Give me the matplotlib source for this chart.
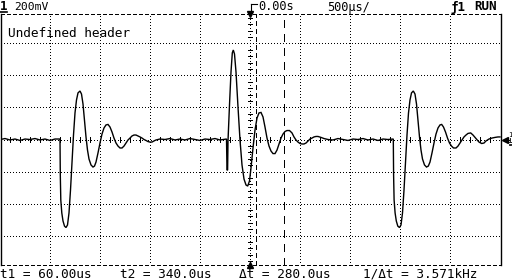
import matplotlib
matplotlib.use("Agg")
import matplotlib.pyplot as plt
from matplotlib.lines import Line2D

plt.rcParams['lines.scale_dashes'] = False

# ---- data (time in microseconds, voltage in millivolts) ----
t_base1 = [-2495, -2450, -2400, -2350, -2300, -2250, -2200, -2150, -2100, -2050, -2000, -1950]
v_base1 = [0, 6, -3, 3, -6, 3, 0, 6, -3, 3, -6, 3]

t_pulse1 = [-1900, -1897, -1892, -1882, -1870, -1855, -1840, -1825, -1810, -1795, -1780, -1765,
            -1750, -1735, -1720, -1700, -1685, -1670, -1655, -1640, -1625, -1610, -1590, -1570,
            -1555, -1540, -1520, -1500, -1480, -1460, -1440, -1420, -1400, -1380, -1360, -1340,
            -1320, -1300, -1280, -1260, -1240, -1220, -1200, -1180, -1160, -1140, -1120, -1100,
            -1080, -1060, -1040, -1020, -1000, -980, -960, -940, -900]
v_pulse1 = [3, -222, -378, -459, -509, -541, -550, -534, -459, -316, -141, 28,
            166, 247, 291, 303, 284, 222, 122, 16, -66, -122, -159, -172,
            -166, -141, -84, -22, 34, 72, 91, 94, 78, 47, 9, -22,
            -41, -53, -53, -41, -22, -3, 9, 22, 28, 28, 22, 16,
            9, 0, -6, -13, -16, -16, -9, -3, 3]

t_base2 = [-850, -800, -750, -700, -650, -600, -550, -500, -450, -400, -350, -300, -265]
v_base2 = [0, 6, -3, 3, -3, 6, 0, -6, 3, 0, 6, -3, 0]

t_pulse2 = [-235, -230, -224, -220, -205, -190, -177, -167, -155, -140, -120, -100,
            -80, -60, -40, -23, -5, 10, 30, 50, 70, 90, 110, 130,
            150, 170, 190, 210, 230, 250, 270, 290, 310, 330, 350, 370,
            395, 420, 440, 460, 480, 500, 520, 540, 560, 580, 600, 620,
            640, 660, 680, 710, 740, 780]
v_pulse2 = [3, -191, -191, -9, 216, 422, 541, 559, 534, 422, 203, -3,
            -159, -247, -284, -291, -259, -178, -53, 59, 134, 166, 169, 141,
            78, 9, -41, -72, -88, -88, -66, -28, 9, 34, 50, 56,
            56, 41, 16, -3, -16, -25, -28, -28, -22, -9, 3, 9,
            16, 19, 19, 13, 6, 0]

t_base3 = [830, 880, 930, 980, 1030, 1080, 1130, 1180, 1230, 1280, 1330, 1380]
v_base3 = [-3, 6, 0, -6, 3, 0, 6, -3, 3, -6, 3, 0]

t_pulse3 = [1433, 1436, 1441, 1451, 1463, 1478, 1495, 1510, 1525, 1540, 1555, 1570,
            1585, 1600, 1615, 1633, 1650, 1665, 1680, 1695, 1710, 1725, 1745, 1765,
            1783, 1800, 1820, 1840, 1860, 1880, 1900, 1917, 1935, 1955, 1975, 1995,
            2015, 2035, 2060, 2080, 2100, 2120, 2140, 2160, 2180, 2207, 2230, 2250,
            2270, 2290, 2317, 2340, 2360, 2390, 2420, 2450, 2480, 2500]
v_pulse3 = [3, -222, -378, -459, -509, -541, -550, -534, -459, -316, -141, 28,
            166, 247, 291, 303, 284, 222, 122, 16, -66, -122, -159, -172,
            -166, -141, -84, -22, 34, 72, 91, 94, 78, 47, 9, -22,
            -41, -53, -53, -41, -22, -3, 16, 28, 38, 41, 28, 13,
            -3, -16, -25, -22, -9, 3, 9, 13, 16, 16]

cursor_t1 = 60
cursor_t2 = 340
grid_t = [-2000, -1500, -1000, -500, 500, 1000, 1500, 2000]
grid_v = [-600, -400, -200, 200, 400, 600]

header_text = "Undefined header"
top_channel = "1"
top_scale = "200mV"
top_delay = "0.00s"
top_time = "500µs/"
top_trig = "ƒ1"
top_run = "RUN"
bottom_labels = ["t1 = 60.00us", "t2 = 340.0us", "Δt = 280.0us", "1/Δt = 3.571kHz"]
bottom_x = [0, 120, 239, 363]

# ---- figure ----
W, H = 512, 280
fig = plt.figure(figsize=(W / 100, H / 100), dpi=100)
fig.patch.set_facecolor('white')

def fx(x):
    return x / W

def fy(y):
    return 1 - y / H

XMIN, XMAX = -2495, 2505
YMIN, YMAX = -784, 784
ax = fig.add_axes([fx(0.5), fy(265), 500 / W, (265 - 14) / H])
ax.set_xlim(XMIN, XMAX)
ax.set_ylim(YMIN, YMAX)
ax.set_xticks([])
ax.set_yticks([])
ax.set_facecolor('white')

px = 0.72  # one pixel in points
LW1 = 0.7   # about one pixel, drawn without antialiasing
for s in ['left', 'right']:
    ax.spines[s].set_linewidth(1.0)
    ax.spines[s].set_color('black')
for s in ['top', 'bottom']:
    ax.spines[s].set_visible(False)

border_dash = (0, (4 * px, 2.5 * px))
for yb in (YMIN, YMAX):
    ax.plot([XMIN, XMAX], [yb, yb], color='black', lw=LW1, ls=border_dash,
            antialiased=False, clip_on=False)

dot = (0, (1 * px, 2.3 * px))
for g in grid_t:
    ax.axvline(g, color='black', lw=LW1, ls=dot, antialiased=False)
for g in grid_v:
    ax.axhline(g, color='black', lw=LW1, ls=dot, antialiased=False)
ax.axvline(0, color='black', lw=LW1, ls=dot, antialiased=False)
ax.axhline(0, color='black', lw=LW1, ls=dot, antialiased=False)

# center axis ticks
tick_t = [k * 100 for k in range(-24, 25) if k % 5 != 0]
ax.vlines(tick_t, -15, 15, color='black', lw=LW1, antialiased=False)
tick_v = [k * 40 for k in range(-19, 20) if k % 5 != 0]
ax.hlines(tick_v, -22, 22, color='black', lw=LW1, antialiased=False)

# cursors
ax.axvline(cursor_t1, color='black', lw=LW1, ls=(0, (5 * px, 3 * px)), antialiased=False)
ax.axvline(cursor_t2, color='black', lw=LW1, ls=(0, (8 * px, 6 * px)), antialiased=False)

# trace
t_all = t_base1 + t_pulse1 + t_base2 + t_pulse2 + t_base3 + t_pulse3
v_all = v_base1 + v_pulse1 + v_base2 + v_pulse2 + v_base3 + v_pulse3
ax.plot(t_all, v_all, color='black', lw=1.0, solid_joinstyle='miter')

# markers on the graticule
ax.plot([0], [YMAX], marker='v', color='black', ms=5, clip_on=False)
ax.plot([0], [YMIN], marker='^', color='black', ms=5, clip_on=False)

ax.text(0.015, (265 - 37) / 251, header_text, transform=ax.transAxes, family='DejaVu Sans Mono',
        fontsize=9.2, va='baseline', ha='left')

mono = 'DejaVu Sans Mono'
fig.text(fx(0), fy(10.5), top_channel, family=mono, fontsize=9, fontweight='bold', va='baseline')
fig.add_artist(Line2D([fx(0), fx(7)], [fy(12), fy(12)], color='black', lw=1.2))
fig.text(fx(14), fy(10.5), top_scale, family=mono, fontsize=8.2, va='baseline')
fig.text(fx(258), fy(10.5), top_delay, family=mono, fontsize=8.6, va='baseline')
fig.text(fx(327), fy(10.5), top_time, family=mono, fontsize=8.6, va='baseline')
fig.text(fx(450), fy(10.5), top_trig, family=mono, fontsize=9, fontweight='bold', va='baseline')
fig.text(fx(474), fy(10.5), top_run, family=mono, fontsize=9, fontweight='bold', va='baseline')

# trigger arrow at top
fig.add_artist(Line2D([fx(250.5), fx(250.5)], [fy(3.5), fy(11)], color='black', lw=0.8))
fig.add_artist(Line2D([fx(250.5), fx(257)], [fy(3.5), fy(3.5)], color='black', lw=0.8))

# ground marker at right
fig.add_artist(Line2D([fx(505)], [fy(139.5)], marker='<', color='black', ms=4))
fig.add_artist(Line2D([fx(503), fx(509)], [fy(139.5), fy(139.5)], color='black', lw=0.8))
fig.text(fx(508), fy(137), "1", family=mono, fontsize=5, va='baseline')
fig.add_artist(Line2D([fx(510), fx(510)], [fy(138), fy(141)], color='black', lw=0.6))
fig.add_artist(Line2D([fx(507.5), fx(512)], [fy(141.5), fy(141.5)], color='black', lw=0.6))
fig.add_artist(Line2D([fx(508.5), fx(511.5)], [fy(143.5), fy(143.5)], color='black', lw=0.6))
fig.add_artist(Line2D([fx(509.3), fx(510.7)], [fy(145.3), fy(145.3)], color='black', lw=0.6))

for lbl, x in zip(bottom_labels, bottom_x):
    fig.text(fx(x), fy(277.5), lbl, family=mono, fontsize=9.2, va='baseline')

fig.savefig('out.png', dpi=100, facecolor='white')
